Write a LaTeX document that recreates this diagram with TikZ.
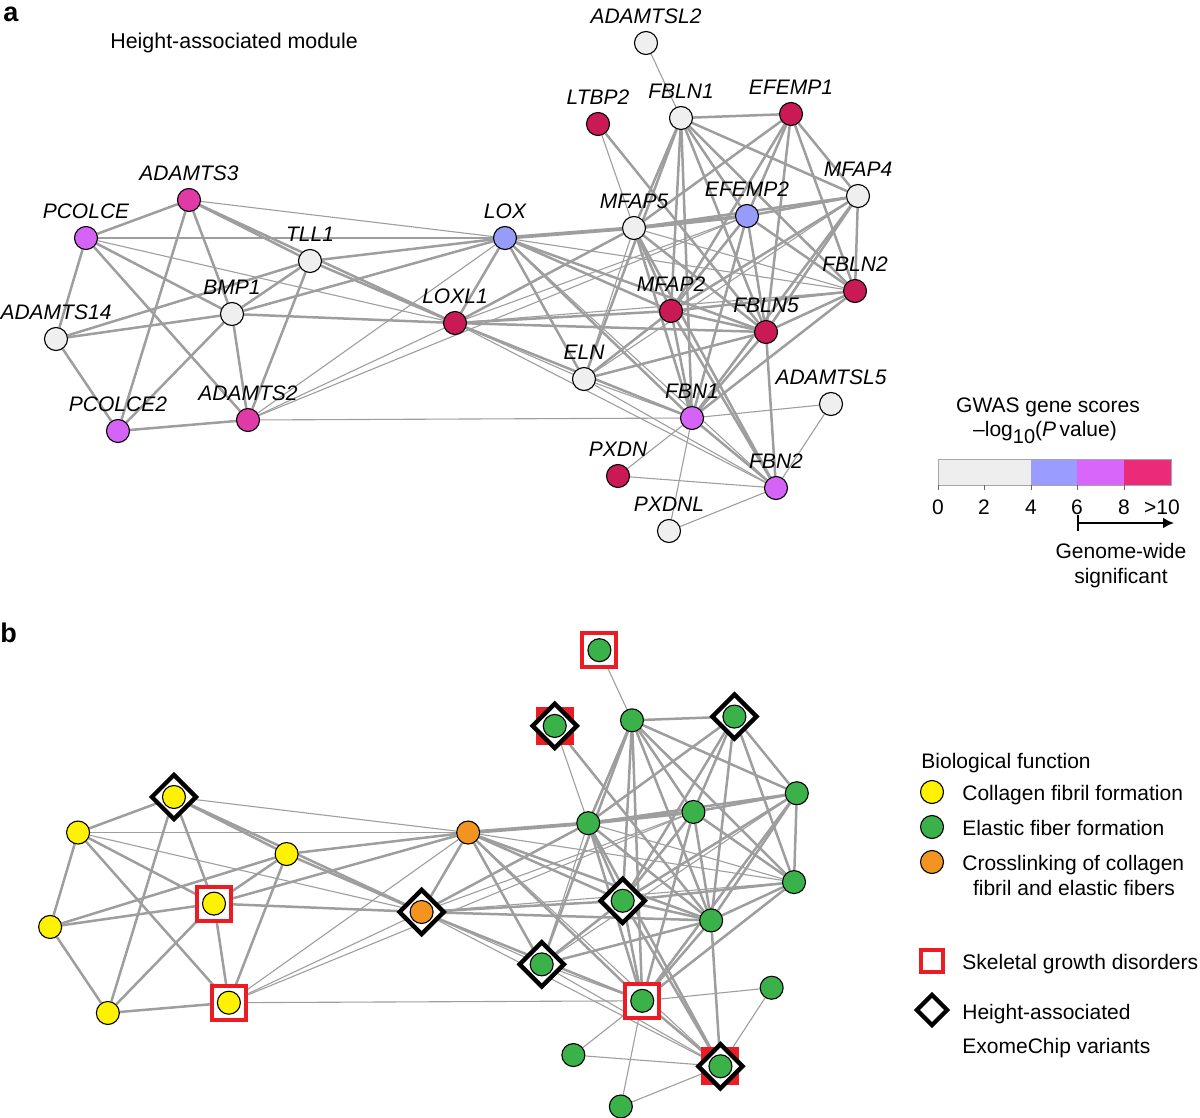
\documentclass[tikz,border=0pt]{standalone}
\usepackage{fontspec}
\setmainfont{Liberation Sans}
\usetikzlibrary{shapes.geometric,arrows.meta}
\pgfdeclarelayer{bg}
\pgfdeclarelayer{mid}
\pgfsetlayers{bg,mid,main}
\definecolor{cg}{HTML}{EFEFEF}
\definecolor{cb}{HTML}{979CF8}
\definecolor{cv}{HTML}{D564F6}
\definecolor{cm}{HTML}{E03AA6}
\definecolor{cr}{HTML}{C91A55}
\definecolor{cy}{HTML}{FFF200}
\definecolor{cgr}{HTML}{3BB14A}
\definecolor{co}{HTML}{F39320}
\definecolor{mred}{HTML}{ED1C24}
\definecolor{ecol}{HTML}{9E9E9E}
\definecolor{bgray}{HTML}{EEEEEE}
\definecolor{bblue}{HTML}{9A9CFF}
\definecolor{bviol}{HTML}{D866FA}
\definecolor{bpink}{HTML}{EC2A7A}

\newcommand\nodelist{%
ADAMTSL2/646/43/cg/cgr, LTBP2/598/124/cr/cgr, FBLN1/681/118/cg/cgr,
EFEMP1/791/114/cr/cgr, MFAP4/858/196/cg/cgr, EFEMP2/747/216/cb/cgr,
MFAP5/634/228/cg/cgr, LOX/505/238/cb/co, FBLN2/855/291/cr/cgr,
MFAP2/671/311/cr/cgr, FBLN5/766/332/cr/cgr, LOXL1/455/323/cr/co,
ELN/584/379/cg/cgr, FBN1/692/418/cv/cgr, ADAMTSL5/831/404/cg/cgr,
PXDN/618/476/cr/cgr, FBN2/776/488/cv/cgr, PXDNL/669/531/cg/cgr,
ADAMTS3/189/200/cm/cy, PCOLCE/86/238/cv/cy, TLL1/310/261/cg/cy,
BMP1/232/314/cg/cy, ADAMTS14/56/339/cg/cy, PCOLCE2/118/431/cv/cy,
ADAMTS2/248/420/cm/cy}

\newcommand\thickE{%
PCOLCE/ADAMTS3, PCOLCE/ADAMTS14, PCOLCE/BMP1, PCOLCE/ADAMTS2,
ADAMTS3/TLL1, ADAMTS3/BMP1, ADAMTS3/PCOLCE2, ADAMTS3/LOXL1,
TLL1/LOX, TLL1/BMP1, TLL1/ADAMTS14, TLL1/ADAMTS2, TLL1/LOXL1,
BMP1/LOX, BMP1/LOXL1, BMP1/ADAMTS2, BMP1/ADAMTS14, BMP1/PCOLCE2,
ADAMTS14/PCOLCE2, PCOLCE2/ADAMTS2, LOXL1/LOX,
LOX/MFAP2, LOX/FBLN5, LOX/ELN, LOX/FBN1,
LOXL1/MFAP5, LOXL1/MFAP2, LOXL1/FBLN5, LOXL1/FBN1,
MFAP5/MFAP4, MFAP5/FBLN1, MFAP5/EFEMP1, MFAP5/MFAP2, MFAP5/FBLN5,
MFAP5/FBN1, MFAP5/FBN2,
FBLN1/EFEMP1, FBLN1/MFAP2, FBLN1/FBLN5, FBLN1/FBLN2, FBLN1/MFAP4,
FBLN1/EFEMP2, FBLN1/ELN, FBLN1/FBN1,
EFEMP1/EFEMP2, EFEMP1/MFAP4, EFEMP1/FBLN2, EFEMP1/FBLN5, EFEMP1/MFAP2,
MFAP4/EFEMP2, MFAP4/FBLN2, MFAP4/MFAP2, MFAP4/FBLN5, MFAP4/FBN1,
EFEMP2/MFAP2, EFEMP2/FBLN5, EFEMP2/FBLN2, EFEMP2/FBN1,
MFAP2/FBLN5, MFAP2/FBLN2, MFAP2/FBN1, MFAP2/FBN2,
FBLN5/FBLN2, FBLN5/FBN1, FBLN5/FBN2, FBLN5/ELN, LTBP2/FBLN5,
FBLN2/FBN1, FBN1/FBN2, ELN/MFAP2}

\newcommand\thinE{%
PCOLCE/LOX, PCOLCE/LOXL1, ADAMTS3/LOX, ADAMTS2/LOX, ADAMTS2/LOXL1,
ADAMTS2/EFEMP2, ADAMTS2/FBN1, LOXL1/EFEMP2, LOXL1/ELN, LOXL1/FBN2,
LOXL1/FBLN2, LOX/FBLN2, LOX/FBN2, MFAP5/FBLN2, MFAP5/ELN, LTBP2/MFAP5,
ADAMTSL2/FBLN1, FBN1/ELN, FBN2/ELN, FBN1/ADAMTSL5, FBN2/ADAMTSL5,
FBN1/PXDN, FBN2/PXDN, FBN1/PXDNL, FBN2/PXDNL, MFAP4/ELN}

\newcommand\xthickE{LOX/MFAP5, MFAP5/EFEMP2}

\newcommand\drawedges[1]{%
\begin{pgfonlayer}{bg}
\foreach \u/\v in \thinE {\draw[en] (#1\u) -- (#1\v);}
\foreach \u/\v in \thickE {\draw[et] (#1\u) -- (#1\v);}
\foreach \u/\v in \xthickE {\draw[ex] (#1\u) -- (#1\v);}
\end{pgfonlayer}}

\begin{document}
\begin{tikzpicture}[x=0.5pt,y=-0.5pt,
  gn/.style={circle, draw=black, line width=0.55pt, minimum size=11.5pt, inner sep=0pt},
  lab/.style={font=\fontsize{10.5}{12}\selectfont\itshape, inner sep=1pt, label distance=2.6pt},
  en/.style={draw=ecol, line width=0.55pt},
  et/.style={draw=ecol, line width=1.25pt},
  ex/.style={draw=ecol, line width=1.9pt},
  sqm/.style={rectangle, draw=mred, fill=white, line width=2pt, minimum size=17pt, inner sep=0pt},
  sqf/.style={sqm, fill=mred},
  dm/.style={diamond, draw=black, fill=white, line width=2.2pt, minimum size=23pt, inner sep=0pt},
  txt/.style={font=\fontsize{10.5}{12}\selectfont, inner sep=0pt},
  pan/.style={font=\fontsize{13.5}{15}\selectfont\bfseries, inner sep=0pt}]
\useasboundingbox (0,0) rectangle (1200,1118);

% ---------- panel a ----------
\node[pan, anchor=base west] (pa) at (3,22) {a};
\node[txt, anchor=base west, font=\fontsize{10.7}{13}\selectfont] (title) at (110,49) {Height-associated module};
\foreach \nm/\xx/\yy/\ca/\cbb in \nodelist {
  \node[gn, fill=\ca, label={[lab]above:\nm}] (a\nm) at (\xx,\yy) {};
}
\drawedges{a}

% legend a
\node[txt, anchor=base] (g1) at (1048,413) {GWAS gene scores};
\node[txt, anchor=base] (g2) at (1045,437) {–log\raisebox{-0.55ex}{\fontsize{10}{10}\selectfont 10}(\textit{P}\,value)};
\fill[bgray] (938,459) rectangle (1031,485);
\fill[bblue] (1031,459) rectangle (1077,485);
\fill[bviol] (1077,459) rectangle (1124,485);
\fill[bpink] (1124,459) rectangle (1171,485);
\draw[gray!70, line width=0.4pt] (938,459) rectangle (1171,485);
\foreach \xx/\tt in {938/0,984/2,1031/4,1077/6,1124/8} {
  \draw[gray!80!black, line width=0.4pt] (\xx,485) -- (\xx,490);
  \node[txt, anchor=base] (t\tt) at (\xx,514) {\tt};
}
\node[txt, anchor=base] (t10) at (1162,514) {>10};
\coordinate (arA) at (1077,523);
\coordinate (arB) at (1174,523);
\draw[line width=1.1pt, {Bar[width=8pt]}-{Latex[length=5.5pt,width=5.5pt]}] (arA) -- (arB);
\node[txt, anchor=base] (gw1) at (1121,558) {Genome-wide};
\node[txt, anchor=base] (gw2) at (1121,583) {significant};

% ---------- panel b ----------
\node[pan, anchor=base west] (pb) at (0,642) {b};
\begin{scope}[shift={(-2,610)}, xscale=0.931, yscale=0.935]
\foreach \nm/\xx/\yy/\ca/\cbb in \nodelist {
  \node[gn, fill=\cbb] (b\nm) at (\xx,\yy) {};
}
\end{scope}
\drawedges{b}
\begin{pgfonlayer}{mid}
\foreach \nm in {BMP1,ADAMTS2,ADAMTSL2,FBN1} {\node[sqm] (s\nm) at (b\nm.center) {};}
\foreach \nm in {LTBP2,FBN2} {\node[sqf] (s\nm) at (b\nm.center) {};}
\foreach \nm in {ADAMTS3,LOXL1,EFEMP1,MFAP2,ELN,LTBP2,FBN2} {\node[dm] (d\nm) at (b\nm.center) {};}
\end{pgfonlayer}

% legend b
\node[txt, anchor=base west] (bf) at (921,768) {Biological function};
\node[gn, fill=cy] (l1) at (932,792) {};
\node[gn, fill=cgr] (l2) at (932,827) {};
\node[gn, fill=co] (l3) at (932,862) {};
\node[txt, anchor=base west] (l1t) at (962,800) {Collagen fibril formation};
\node[txt, anchor=base west] (l2t) at (962,835) {Elastic fiber formation};
\node[txt, anchor=base west] (l3t) at (962,870) {Crosslinking of collagen};
\node[txt, anchor=base] (l3u) at (1074,895) {fibril and elastic fibers};
\node[rectangle, draw=mred, fill=white, line width=1.7pt, minimum size=11pt, inner sep=0pt] (l4) at (932,961) {};
\node[txt, anchor=base west] (l4t) at (962,969) {Skeletal growth disorders};
\node[diamond, draw=black, fill=white, line width=2.1pt, minimum size=16pt, inner sep=0pt] (l5) at (932,1010) {};
\node[txt, anchor=base west] (l5t) at (962,1019) {Height-associated};
\node[txt, anchor=base west] (l5u) at (962,1053) {ExomeChip variants};
\end{tikzpicture}
\end{document}
